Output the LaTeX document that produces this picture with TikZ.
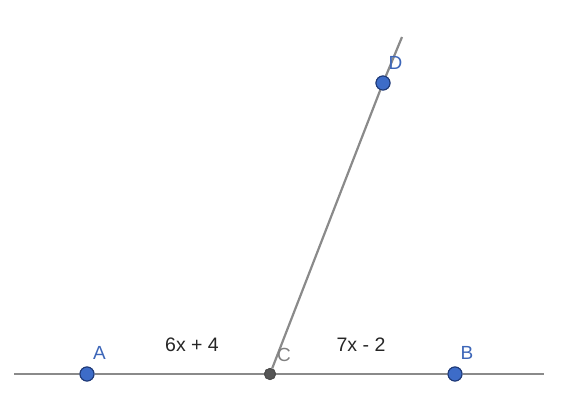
\documentclass[tikz,border=0pt]{standalone}
\usepackage{fontspec}
\setmainfont{Liberation Sans}
\definecolor{lgray}{HTML}{8A8A8A}
\definecolor{ptblue}{HTML}{3D6CC8}
\definecolor{ptedge}{HTML}{1F3A78}
\definecolor{lblblue}{HTML}{3D66B8}
\definecolor{cgray}{HTML}{555555}
\begin{document}
\begin{tikzpicture}[x=1pt,y=-1pt,
  ln/.style={draw=lgray,line width=2.2pt},
  bpt/.style={circle,fill=ptblue,draw=ptedge,line width=1pt,minimum size=14pt,inner sep=0pt},
  gpt/.style={circle,fill=cgray,draw=black!70,line width=1pt,minimum size=11pt,inner sep=0pt},
  lbl/.style={text=lblblue,font=\fontsize{19}{19}\selectfont,inner sep=0pt},
  ang/.style={text=black!85,font=\fontsize{19.5}{19.5}\selectfont,inner sep=0pt}]
\useasboundingbox (0,0) rectangle (580,414);
\coordinate (L) at (14,374);
\coordinate (R) at (544,374);
\coordinate (T) at (402,37);
\node[bpt] (A) at (87,374) {};
\node[gpt] (C) at (270,374) {};
\node[bpt] (B) at (455,374) {};
\node[bpt] (D) at (383,83) {};
\draw[ln] (L) -- (A);
\draw[ln] (A) -- (C);
\draw[ln] (C) -- (B);
\draw[ln] (B) -- (R);
\draw[ln] (C) -- (D);
\draw[ln] (D) -- (T);
\node[bpt] at (A) {};
\node[gpt] at (C) {};
\node[bpt] at (B) {};
\node[bpt] at (D) {};
\node[lbl] (la) at (99.5,353) {A};
\node[lbl] (lb) at (467,353) {B};
\node[lbl,text=gray] (lc) at (284,355) {C};
\node[lbl] (ld) at (395.5,63) {D};
\node[ang] (a1) at (192,345) {6x + 4};
\node[ang] (a2) at (361,345) {7x - 2};
\end{tikzpicture}
\end{document}
